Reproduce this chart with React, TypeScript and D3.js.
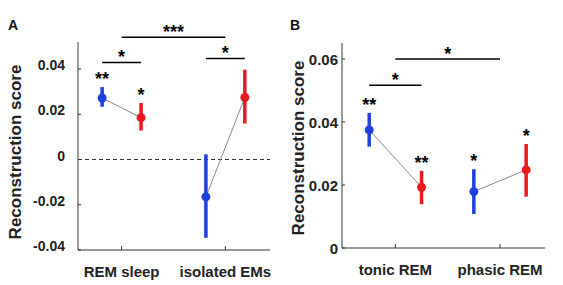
import React from "react";
import * as d3 from "d3";

// Panel A: REM sleep vs isolated eye movements
const catsA = ["REM sleep", "isolated EMs"];
const meanA_blue = [0.0272, -0.0165];
const lowA_blue = [0.0233, -0.0346];
const highA_blue = [0.032, 0.0023];
const meanA_red = [0.0185, 0.0274];
const lowA_red = [0.0128, 0.0159];
const highA_red = [0.025, 0.0397];
const starsA_blue = ["**", ""];
const starsA_red = ["*", ""];
const ticksA = [-0.04, -0.02, 0, 0.02, 0.04];
const tickLabelsA = ["-0.04", "-0.02", "0", "0.02", "0.04"];
const bracketsA = [
  { from: [0, -1], to: [0, 1], level: 0.0429, label: "*" },
  { from: [0, 0], to: [1, 0], level: 0.054, label: "***" },
  { from: [1, -1], to: [1, 1], level: 0.0446, label: "*" },
];

// Panel B: tonic vs phasic REM
const catsB = ["tonic REM", "phasic REM"];
const meanB_blue = [0.0375, 0.0179];
const lowB_blue = [0.0322, 0.0108];
const highB_blue = [0.0429, 0.025];
const meanB_red = [0.0193, 0.0248];
const lowB_red = [0.0139, 0.0163];
const highB_red = [0.0245, 0.033];
const starsB_blue = ["**", "*"];
const starsB_red = ["**", "*"];
const ticksB = [0, 0.02, 0.04, 0.06];
const tickLabelsB = ["0", "0.02", "0.04", "0.06"];
const bracketsB = [
  { from: [0, -1], to: [0, 1], level: 0.0517, label: "*" },
  { from: [0, 0], to: [1, 0], level: 0.06, label: "*" },
];

const BLUE = "#1f3fe0";
const RED = "#ea1a1f";
const FONT = "'Liberation Sans', Arial, Helvetica, sans-serif";

type PanelProps = {
  letter: string;
  letterX: number;
  cats: string[];
  blue: { mean: number[]; low: number[]; high: number[]; stars: string[] };
  red: { mean: number[]; low: number[]; high: number[]; stars: string[] };
  ticks: number[];
  tickLabels: string[];
  brackets: { from: number[]; to: number[]; level: number; label: string }[];
  x: d3.ScaleLinear<number, number>;
  y: d3.ScaleLinear<number, number>;
  axisTop: number;
  offset: number;
  tickFont: number;
  labelGap: number;
  labelDy: number;
  titleX: number;
  titleY: number;
  zeroLine: boolean;
};

function Panel(p: PanelProps) {
  const { x, y } = p;
  const [x0, x1] = x.range();
  const yBottom = y.range()[0];
  const px = (i: number, side: number) => x(i + side * p.offset);

  const series = [
    { side: -1, color: BLUE, ...p.blue },
    { side: 1, color: RED, ...p.red },
  ];

  return (
    <g fontFamily={FONT} fontWeight="bold" fill="#111">
      <text x={p.letterX} y={30} fontSize={14}>
        {p.letter}
      </text>
      <text
        transform={`translate(${p.titleX},${p.titleY}) rotate(-90)`}
        textAnchor="middle"
        fontSize={17}
        fill="#222"
      >
        Reconstruction score
      </text>

      {/* axes */}
      <line x1={x0} x2={x0} y1={p.axisTop} y2={yBottom} stroke="#333" strokeWidth={1} />
      <line x1={x0} x2={x1} y1={yBottom} y2={yBottom} stroke="#333" strokeWidth={1} />
      {p.ticks.map((t, i) => (
        <g key={t}>
          <line x1={x0} x2={x0 + 3} y1={y(t)} y2={y(t)} stroke="#333" />
          <text
            x={x0 - p.labelGap}
            y={y(t) + p.labelDy}
            textAnchor="end"
            fontSize={p.tickFont}
            fill="#222"
          >
            {p.tickLabels[i]}
          </text>
        </g>
      ))}
      {p.cats.map((c, i) => (
        <g key={c}>
          <line x1={x(i)} x2={x(i)} y1={yBottom} y2={yBottom - 4} stroke="#333" />
          <text x={x(i)} y={yBottom + 27} textAnchor="middle" fontSize={15} fill="#222">
            {c}
          </text>
        </g>
      ))}

      {p.zeroLine && (
        <line
          x1={x0}
          x2={x1}
          y1={y(0)}
          y2={y(0)}
          stroke="#333"
          strokeWidth={1}
          strokeDasharray="4 3"
        />
      )}

      {/* blue-to-red connectors */}
      {p.cats.map((c, i) => (
        <line
          key={c}
          x1={px(i, -1)}
          y1={y(p.blue.mean[i])}
          x2={px(i, 1)}
          y2={y(p.red.mean[i])}
          stroke="#8a8a8a"
          strokeWidth={1}
        />
      ))}

      {series.map((s) =>
        s.mean.map((m, i) => (
          <g key={`${s.side}-${i}`}>
            <line
              x1={px(i, s.side)}
              x2={px(i, s.side)}
              y1={y(s.low[i])}
              y2={y(s.high[i])}
              stroke={s.color}
              strokeWidth={3.5}
            />
            <circle cx={px(i, s.side)} cy={y(m)} r={4.5} fill={s.color} />
            {s.stars[i] && (
              <text
                x={px(i, s.side)}
                y={y(s.high[i]) - 2}
                textAnchor="middle"
                fontSize={18}
                fill="#000"
              >
                {s.stars[i]}
              </text>
            )}
          </g>
        ))
      )}

      {p.brackets.map((b, k) => {
        const xa = px(b.from[0], b.from[1]);
        const xb = px(b.to[0], b.to[1]);
        return (
          <g key={k}>
            <line x1={xa} x2={xb} y1={y(b.level)} y2={y(b.level)} stroke="#000" strokeWidth={1.5} />
            <text
              x={(xa + xb) / 2}
              y={y(b.level) + 0.5}
              textAnchor="middle"
              fontSize={18}
              fill="#000"
            >
              {b.label}
            </text>
          </g>
        );
      })}
    </g>
  );
}

export default function App() {
  const xA = d3.scaleLinear().domain([-0.42, 1.43]).range([78, 270]);
  const yA = d3.scaleLinear().domain([-0.04, 0.04]).range([250, 69]);
  const xB = d3.scaleLinear().domain([-0.51, 1.43]).range([342, 545]);
  const yB = d3.scaleLinear().domain([0, 0.06]).range([248, 59]);

  return (
    <div style={{ position: "absolute", left: 0, top: 0 }}>
      <svg width={563} height={285} style={{ display: "block", background: "#fff" }}>
        <Panel
          letter="A"
          letterX={8}
          cats={catsA}
          blue={{ mean: meanA_blue, low: lowA_blue, high: highA_blue, stars: starsA_blue }}
          red={{ mean: meanA_red, low: lowA_red, high: highA_red, stars: starsA_red }}
          ticks={ticksA}
          tickLabels={tickLabelsA}
          brackets={bracketsA}
          x={xA}
          y={yA}
          axisTop={42}
          offset={0.1875}
          tickFont={14}
          labelGap={13}
          labelDy={1}
          titleX={21}
          titleY={152}
          zeroLine={true}
        />
        <Panel
          letter="B"
          letterX={290}
          cats={catsB}
          blue={{ mean: meanB_blue, low: lowB_blue, high: highB_blue, stars: starsB_blue }}
          red={{ mean: meanB_red, low: lowB_red, high: highB_red, stars: starsB_red }}
          ticks={ticksB}
          tickLabels={tickLabelsB}
          brackets={bracketsB}
          x={xB}
          y={yB}
          axisTop={43}
          offset={0.25}
          tickFont={15}
          labelGap={4}
          labelDy={5.5}
          titleX={304}
          titleY={148}
          zeroLine={false}
        />
      </svg>
    </div>
  );
}
